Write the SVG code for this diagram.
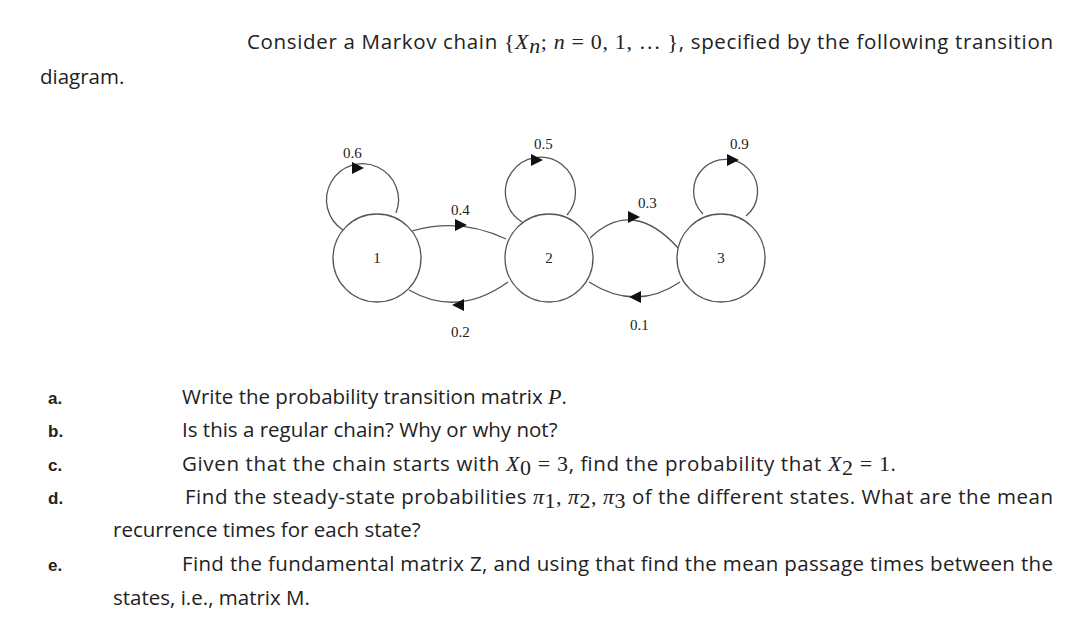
<svg xmlns="http://www.w3.org/2000/svg" width="1080" height="619" viewBox="0 0 1080 619">
<style>
.t{font-family:"Open Sans","Liberation Sans",sans-serif;font-size:20.5px;fill:#222}
.m{font-family:"Liberation Serif",serif;font-size:22px;fill:#222}
.i{font-style:italic}
.b{font-family:"Liberation Sans",sans-serif;font-size:17px;font-weight:bold;fill:#222}
.n{fill:#fff;stroke:#555;stroke-width:1.3}
.e{fill:none;stroke:#555;stroke-width:1.3}
.l{font-family:"Liberation Serif",serif;font-size:15px;fill:#222}
</style>
<defs><marker id="a" viewBox="0 0 10 10" refX="5" refY="5" markerWidth="12" markerHeight="12" markerUnits="userSpaceOnUse" orient="auto"><path d="M0,0L10,5L0,10z" fill="#111"/></marker></defs>
<rect width="1080" height="619" fill="#fff"/>
<text x="247" y="49" class="t" textLength="806" lengthAdjust="spacing">Consider a Markov chain <tspan class="m">{</tspan><tspan class="m i">X</tspan><tspan class="m i" font-size="15" dy="4">n</tspan><tspan class="m" dy="-4">; </tspan><tspan class="m i">n</tspan><tspan class="m"> = 0, 1, … }</tspan>, specified by the following transition</text>
<text x="40" y="84" class="t">diagram.</text>
<g id="connectors">
<path class="e" d="M343,230 A36,36 0 1 1 396,213"/>
<path class="e" d="M355,168 L358,168" marker-end="url(#a)"/>
<path class="e" d="M522,222 A35,35 0 1 1 567,215"/>
<path class="e" d="M534,160 L537,160" marker-end="url(#a)"/>
<path class="e" d="M703,214 A32,32 0 1 1 746,216"/>
<path class="e" d="M730,160 L733,160" marker-end="url(#a)"/>
<path class="e" d="M412,231 Q460,217 506,239"/>
<path class="e" d="M458,225 L461,225" marker-end="url(#a)"/>
<path class="e" d="M508,282 Q458,318 409,290"/>
<path class="e" d="M461,305 L458,305" marker-end="url(#a)"/>
<path class="e" d="M590,238 Q633,197 679,249"/>
<path class="e" d="M631,217 L634,217" marker-end="url(#a)"/>
<path class="e" d="M680,282 Q636,312 589,282"/>
<path class="e" d="M638,297 L635,297" marker-end="url(#a)"/>
</g>
<g id="n1"><circle class="n" cx="377" cy="258" r="44"/><text x="377" y="263" class="l" text-anchor="middle">1</text></g>
<g id="n2"><circle class="n" cx="549" cy="258" r="44"/><text x="549" y="263" class="l" text-anchor="middle">2</text></g>
<g id="n3"><circle class="n" cx="721" cy="258" r="44"/><text x="721" y="263" class="l" text-anchor="middle">3</text></g>
<g id="labels">
<text x="343" y="158" class="l">0.6</text>
<text x="534" y="149" class="l">0.5</text>
<text x="730" y="149" class="l">0.9</text>
<text x="451" y="215" class="l">0.4</text>
<text x="638" y="208" class="l">0.3</text>
<text x="451" y="337" class="l">0.2</text>
<text x="630" y="330" class="l">0.1</text>
</g>
<text x="48" y="404" class="b">a.</text>
<text x="182" y="404" class="t">Write the probability transition matrix <tspan class="m i">P</tspan>.</text>
<text x="48" y="437" class="b">b.</text>
<text x="182" y="437" class="t">Is this a regular chain? Why or why not?</text>
<text x="48" y="471" class="b">c.</text>
<text x="182" y="471" class="t" textLength="714" lengthAdjust="spacing">Given that the chain starts with <tspan class="m i">X</tspan><tspan class="m" font-size="15" dy="4">0</tspan><tspan class="m" dy="-4"> = 3</tspan>, find the probability that <tspan class="m i">X</tspan><tspan class="m" font-size="15" dy="4">2</tspan><tspan class="m" dy="-4"> = 1</tspan>.</text>
<text x="48" y="504" class="b">d.</text>
<text x="185" y="504" class="t" textLength="868" lengthAdjust="spacing">Find the steady-state probabilities <tspan class="m i">π</tspan><tspan class="m" font-size="15" dy="4">1</tspan><tspan class="m" dy="-4">, </tspan><tspan class="m i">π</tspan><tspan class="m" font-size="15" dy="4">2</tspan><tspan class="m" dy="-4">, </tspan><tspan class="m i">π</tspan><tspan class="m" font-size="15" dy="4">3</tspan><tspan dy="-4"> of the different states. What are the mean</tspan></text>
<text x="113" y="537" class="t">recurrence times for each state?</text>
<text x="48" y="571" class="b">e.</text>
<text x="182" y="571" class="t" textLength="871" lengthAdjust="spacing">Find the fundamental matrix Z, and using that find the mean passage times between the</text>
<text x="113" y="605" class="t">states, i.e., matrix M.</text>
</svg>
